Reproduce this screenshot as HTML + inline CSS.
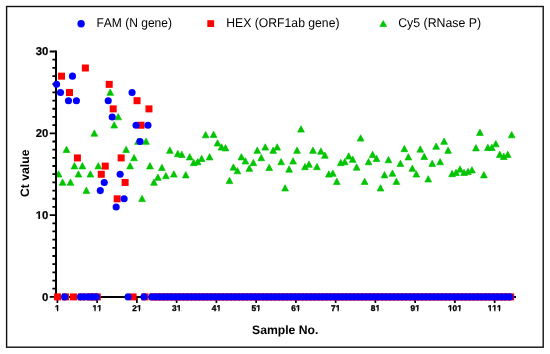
<!DOCTYPE html><html><head><meta charset="utf-8"><title>Ct value chart</title>
<style>html,body{margin:0;padding:0;background:#fff}svg{display:block}text{font-kerning:none;text-rendering:geometricPrecision;font-family:"Liberation Sans",sans-serif;fill:#000}</style></head><body>
<svg width="550" height="354" viewBox="0 0 550 354">
<rect x="0" y="0" width="550" height="354" fill="#fff"/>
<rect x="6.6" y="6.5" width="536.6" height="340.7" fill="none" stroke="#111" stroke-width="1.4"/>
<g fill="#00c400" stroke="#00c400" stroke-width="0.7" stroke-linejoin="round">
<path d="M58.55 170.77L61.90 177.07L55.20 177.07Z"/>
<path d="M62.52 178.95L65.88 185.25L59.17 185.25Z"/>
<path d="M66.50 146.25L69.85 152.55L63.15 152.55Z"/>
<path d="M70.47 178.95L73.82 185.25L67.12 185.25Z"/>
<path d="M74.45 162.60L77.80 168.90L71.10 168.90Z"/>
<path d="M78.42 170.77L81.77 177.07L75.08 177.07Z"/>
<path d="M82.40 162.60L85.75 168.90L79.05 168.90Z"/>
<path d="M86.38 187.12L89.72 193.42L83.03 193.42Z"/>
<path d="M90.35 170.77L93.70 177.07L87.00 177.07Z"/>
<path d="M94.32 129.90L97.67 136.20L90.97 136.20Z"/>
<path d="M98.30 162.60L101.65 168.90L94.95 168.90Z"/>
<path d="M110.22 89.02L113.57 95.32L106.88 95.32Z"/>
<path d="M114.20 121.72L117.55 128.02L110.85 128.02Z"/>
<path d="M118.17 113.55L121.52 119.85L114.83 119.85Z"/>
<path d="M126.12 146.25L129.47 152.55L122.78 152.55Z"/>
<path d="M130.10 162.60L133.45 168.90L126.75 168.90Z"/>
<path d="M134.07 154.42L137.42 160.72L130.72 160.72Z"/>
<path d="M138.05 138.07L141.40 144.37L134.70 144.37Z"/>
<path d="M142.03 195.30L145.38 201.60L138.68 201.60Z"/>
<path d="M146.00 138.07L149.35 144.37L142.65 144.37Z"/>
<path d="M149.97 162.60L153.32 168.90L146.62 168.90Z"/>
<path d="M153.95 178.95L157.30 185.25L150.60 185.25Z"/>
<path d="M157.93 174.04L161.28 180.34L154.58 180.34Z"/>
<path d="M161.90 164.23L165.25 170.53L158.55 170.53Z"/>
<path d="M165.88 172.41L169.22 178.71L162.53 178.71Z"/>
<path d="M169.85 147.07L173.20 153.37L166.50 153.37Z"/>
<path d="M173.82 170.77L177.17 177.07L170.47 177.07Z"/>
<path d="M177.80 150.34L181.15 156.64L174.45 156.64Z"/>
<path d="M181.78 151.15L185.12 157.45L178.43 157.45Z"/>
<path d="M185.75 171.59L189.10 177.89L182.40 177.89Z"/>
<path d="M189.73 153.61L193.08 159.91L186.38 159.91Z"/>
<path d="M193.70 159.33L197.05 165.63L190.35 165.63Z"/>
<path d="M197.68 158.51L201.03 164.81L194.33 164.81Z"/>
<path d="M201.65 155.24L205.00 161.54L198.30 161.54Z"/>
<path d="M205.62 131.53L208.97 137.83L202.28 137.83Z"/>
<path d="M209.60 153.61L212.95 159.91L206.25 159.91Z"/>
<path d="M213.57 131.13L216.92 137.43L210.22 137.43Z"/>
<path d="M217.55 139.71L220.90 146.01L214.20 146.01Z"/>
<path d="M221.52 143.80L224.87 150.10L218.17 150.10Z"/>
<path d="M225.50 144.61L228.85 150.91L222.15 150.91Z"/>
<path d="M229.48 177.31L232.83 183.61L226.13 183.61Z"/>
<path d="M233.45 163.83L236.80 170.13L230.10 170.13Z"/>
<path d="M237.43 167.50L240.78 173.80L234.08 173.80Z"/>
<path d="M241.40 153.61L244.75 159.91L238.05 159.91Z"/>
<path d="M245.38 157.69L248.72 163.99L242.03 163.99Z"/>
<path d="M249.35 165.05L252.70 171.35L246.00 171.35Z"/>
<path d="M253.32 159.33L256.68 165.63L249.97 165.63Z"/>
<path d="M257.30 147.07L260.65 153.37L253.95 153.37Z"/>
<path d="M261.27 154.42L264.62 160.72L257.92 160.72Z"/>
<path d="M265.25 143.80L268.60 150.10L261.90 150.10Z"/>
<path d="M269.23 164.23L272.58 170.53L265.88 170.53Z"/>
<path d="M273.20 147.07L276.55 153.37L269.85 153.37Z"/>
<path d="M277.18 143.80L280.53 150.10L273.82 150.10Z"/>
<path d="M281.15 158.51L284.50 164.81L277.80 164.81Z"/>
<path d="M285.12 184.67L288.48 190.97L281.77 190.97Z"/>
<path d="M289.10 165.87L292.45 172.17L285.75 172.17Z"/>
<path d="M293.07 157.69L296.43 163.99L289.72 163.99Z"/>
<path d="M297.05 147.07L300.40 153.37L293.70 153.37Z"/>
<path d="M301.02 125.81L304.38 132.11L297.67 132.11Z"/>
<path d="M305.00 163.42L308.35 169.72L301.65 169.72Z"/>
<path d="M308.98 160.96L312.33 167.26L305.62 167.26Z"/>
<path d="M312.95 147.07L316.30 153.37L309.60 153.37Z"/>
<path d="M316.93 163.42L320.28 169.72L313.57 169.72Z"/>
<path d="M320.90 147.88L324.25 154.18L317.55 154.18Z"/>
<path d="M324.88 151.97L328.23 158.27L321.52 158.27Z"/>
<path d="M328.85 170.77L332.20 177.07L325.50 177.07Z"/>
<path d="M332.83 169.96L336.18 176.26L329.48 176.26Z"/>
<path d="M336.80 178.13L340.15 184.43L333.45 184.43Z"/>
<path d="M340.78 159.33L344.13 165.63L337.43 165.63Z"/>
<path d="M344.75 158.51L348.10 164.81L341.40 164.81Z"/>
<path d="M348.73 152.79L352.08 159.09L345.38 159.09Z"/>
<path d="M352.70 156.06L356.05 162.36L349.35 162.36Z"/>
<path d="M356.68 163.83L360.03 170.13L353.32 170.13Z"/>
<path d="M360.65 134.80L364.00 141.10L357.30 141.10Z"/>
<path d="M364.62 178.13L367.98 184.43L361.27 184.43Z"/>
<path d="M368.60 158.51L371.95 164.81L365.25 164.81Z"/>
<path d="M372.58 151.15L375.93 157.45L369.23 157.45Z"/>
<path d="M376.55 155.24L379.90 161.54L373.20 161.54Z"/>
<path d="M380.53 184.67L383.88 190.97L377.18 190.97Z"/>
<path d="M384.50 171.59L387.85 177.89L381.15 177.89Z"/>
<path d="M388.48 156.47L391.83 162.77L385.12 162.77Z"/>
<path d="M392.45 169.96L395.80 176.26L389.10 176.26Z"/>
<path d="M396.43 178.13L399.78 184.43L393.07 184.43Z"/>
<path d="M400.40 160.15L403.75 166.45L397.05 166.45Z"/>
<path d="M404.38 145.43L407.73 151.73L401.02 151.73Z"/>
<path d="M408.35 153.61L411.70 159.91L405.00 159.91Z"/>
<path d="M412.33 165.05L415.68 171.35L408.98 171.35Z"/>
<path d="M416.30 170.77L419.65 177.07L412.95 177.07Z"/>
<path d="M420.28 145.84L423.63 152.14L416.93 152.14Z"/>
<path d="M424.25 153.20L427.60 159.50L420.90 159.50Z"/>
<path d="M428.23 175.68L431.58 181.98L424.88 181.98Z"/>
<path d="M432.20 160.15L435.55 166.45L428.85 166.45Z"/>
<path d="M436.18 142.98L439.53 149.28L432.82 149.28Z"/>
<path d="M440.15 158.51L443.50 164.81L436.80 164.81Z"/>
<path d="M444.12 138.07L447.48 144.37L440.77 144.37Z"/>
<path d="M448.10 147.07L451.45 153.37L444.75 153.37Z"/>
<path d="M452.08 170.37L455.43 176.67L448.73 176.67Z"/>
<path d="M456.05 169.14L459.40 175.44L452.70 175.44Z"/>
<path d="M460.03 165.87L463.38 172.17L456.68 172.17Z"/>
<path d="M464.00 169.14L467.35 175.44L460.65 175.44Z"/>
<path d="M467.98 168.32L471.33 174.62L464.62 174.62Z"/>
<path d="M471.95 166.69L475.30 172.99L468.60 172.99Z"/>
<path d="M475.93 144.61L479.28 150.91L472.57 150.91Z"/>
<path d="M479.90 129.08L483.25 135.38L476.55 135.38Z"/>
<path d="M483.88 171.59L487.23 177.89L480.52 177.89Z"/>
<path d="M487.85 144.21L491.20 150.51L484.50 150.51Z"/>
<path d="M491.83 144.21L495.18 150.51L488.48 150.51Z"/>
<path d="M495.80 140.53L499.15 146.83L492.45 146.83Z"/>
<path d="M499.78 151.15L503.13 157.45L496.43 157.45Z"/>
<path d="M503.75 153.20L507.10 159.50L500.40 159.50Z"/>
<path d="M507.73 151.15L511.08 157.45L504.38 157.45Z"/>
<path d="M511.70 131.53L515.05 137.83L508.35 137.83Z"/>
</g>
<g stroke="#000" fill="none">
<path d="M56 50.6V297.9" stroke-width="2"/>
<path d="M55 297H516" stroke-width="1.8"/>
<path d="M49.7 296.90H56M52.4 288.72H56M52.4 280.54H56M52.4 272.36H56M52.4 264.18H56M52.4 256.00H56M52.4 247.82H56M52.4 239.64H56M52.4 231.46H56M52.4 223.28H56M49.7 215.10H56M52.4 206.92H56M52.4 198.74H56M52.4 190.56H56M52.4 182.38H56M52.4 174.20H56M52.4 166.02H56M52.4 157.84H56M52.4 149.66H56M52.4 141.48H56M49.7 133.30H56M52.4 125.12H56M52.4 116.94H56M52.4 108.76H56M52.4 100.58H56M52.4 92.40H56M52.4 84.22H56M52.4 76.04H56M52.4 67.86H56M52.4 59.68H56M49.7 51.50H56" stroke-width="1.8"/>
<path d="M57.40 297V302.9M97.15 297V302.9M136.90 297V302.9M176.65 297V302.9M216.40 297V302.9M256.15 297V302.9M295.90 297V302.9M335.65 297V302.9M375.40 297V302.9M415.15 297V302.9M454.90 297V302.9M494.65 297V302.9" stroke-width="1.7"/>
</g>
<g fill="#ff0000">
<rect x="54.05" y="293.40" width="7.0" height="7.0"/>
<rect x="62.00" y="293.40" width="7.0" height="7.0"/>
<rect x="69.95" y="293.40" width="7.0" height="7.0"/>
<rect x="77.90" y="293.40" width="7.0" height="7.0"/>
<rect x="85.85" y="293.40" width="7.0" height="7.0"/>
<rect x="89.82" y="293.40" width="7.0" height="7.0"/>
<rect x="93.80" y="293.40" width="7.0" height="7.0"/>
<rect x="129.57" y="293.40" width="7.0" height="7.0"/>
<rect x="141.50" y="293.40" width="7.0" height="7.0"/>
<rect x="149.45" y="293.40" width="7.0" height="7.0"/>
<rect x="153.43" y="293.40" width="7.0" height="7.0"/>
<rect x="157.40" y="293.40" width="7.0" height="7.0"/>
<rect x="161.38" y="293.40" width="7.0" height="7.0"/>
<rect x="165.35" y="293.40" width="7.0" height="7.0"/>
<rect x="169.32" y="293.40" width="7.0" height="7.0"/>
<rect x="173.30" y="293.40" width="7.0" height="7.0"/>
<rect x="177.28" y="293.40" width="7.0" height="7.0"/>
<rect x="181.25" y="293.40" width="7.0" height="7.0"/>
<rect x="185.23" y="293.40" width="7.0" height="7.0"/>
<rect x="189.20" y="293.40" width="7.0" height="7.0"/>
<rect x="193.18" y="293.40" width="7.0" height="7.0"/>
<rect x="197.15" y="293.40" width="7.0" height="7.0"/>
<rect x="201.12" y="293.40" width="7.0" height="7.0"/>
<rect x="205.10" y="293.40" width="7.0" height="7.0"/>
<rect x="209.07" y="293.40" width="7.0" height="7.0"/>
<rect x="213.05" y="293.40" width="7.0" height="7.0"/>
<rect x="217.02" y="293.40" width="7.0" height="7.0"/>
<rect x="221.00" y="293.40" width="7.0" height="7.0"/>
<rect x="224.98" y="293.40" width="7.0" height="7.0"/>
<rect x="228.95" y="293.40" width="7.0" height="7.0"/>
<rect x="232.93" y="293.40" width="7.0" height="7.0"/>
<rect x="236.90" y="293.40" width="7.0" height="7.0"/>
<rect x="240.88" y="293.40" width="7.0" height="7.0"/>
<rect x="244.85" y="293.40" width="7.0" height="7.0"/>
<rect x="248.82" y="293.40" width="7.0" height="7.0"/>
<rect x="252.80" y="293.40" width="7.0" height="7.0"/>
<rect x="256.77" y="293.40" width="7.0" height="7.0"/>
<rect x="260.75" y="293.40" width="7.0" height="7.0"/>
<rect x="264.73" y="293.40" width="7.0" height="7.0"/>
<rect x="268.70" y="293.40" width="7.0" height="7.0"/>
<rect x="272.68" y="293.40" width="7.0" height="7.0"/>
<rect x="276.65" y="293.40" width="7.0" height="7.0"/>
<rect x="280.62" y="293.40" width="7.0" height="7.0"/>
<rect x="284.60" y="293.40" width="7.0" height="7.0"/>
<rect x="288.57" y="293.40" width="7.0" height="7.0"/>
<rect x="292.55" y="293.40" width="7.0" height="7.0"/>
<rect x="296.52" y="293.40" width="7.0" height="7.0"/>
<rect x="300.50" y="293.40" width="7.0" height="7.0"/>
<rect x="304.48" y="293.40" width="7.0" height="7.0"/>
<rect x="308.45" y="293.40" width="7.0" height="7.0"/>
<rect x="312.43" y="293.40" width="7.0" height="7.0"/>
<rect x="316.40" y="293.40" width="7.0" height="7.0"/>
<rect x="320.38" y="293.40" width="7.0" height="7.0"/>
<rect x="324.35" y="293.40" width="7.0" height="7.0"/>
<rect x="328.33" y="293.40" width="7.0" height="7.0"/>
<rect x="332.30" y="293.40" width="7.0" height="7.0"/>
<rect x="336.28" y="293.40" width="7.0" height="7.0"/>
<rect x="340.25" y="293.40" width="7.0" height="7.0"/>
<rect x="344.23" y="293.40" width="7.0" height="7.0"/>
<rect x="348.20" y="293.40" width="7.0" height="7.0"/>
<rect x="352.18" y="293.40" width="7.0" height="7.0"/>
<rect x="356.15" y="293.40" width="7.0" height="7.0"/>
<rect x="360.12" y="293.40" width="7.0" height="7.0"/>
<rect x="364.10" y="293.40" width="7.0" height="7.0"/>
<rect x="368.08" y="293.40" width="7.0" height="7.0"/>
<rect x="372.05" y="293.40" width="7.0" height="7.0"/>
<rect x="376.03" y="293.40" width="7.0" height="7.0"/>
<rect x="380.00" y="293.40" width="7.0" height="7.0"/>
<rect x="383.98" y="293.40" width="7.0" height="7.0"/>
<rect x="387.95" y="293.40" width="7.0" height="7.0"/>
<rect x="391.93" y="293.40" width="7.0" height="7.0"/>
<rect x="395.90" y="293.40" width="7.0" height="7.0"/>
<rect x="399.88" y="293.40" width="7.0" height="7.0"/>
<rect x="403.85" y="293.40" width="7.0" height="7.0"/>
<rect x="407.83" y="293.40" width="7.0" height="7.0"/>
<rect x="411.80" y="293.40" width="7.0" height="7.0"/>
<rect x="415.78" y="293.40" width="7.0" height="7.0"/>
<rect x="419.75" y="293.40" width="7.0" height="7.0"/>
<rect x="423.73" y="293.40" width="7.0" height="7.0"/>
<rect x="427.70" y="293.40" width="7.0" height="7.0"/>
<rect x="431.68" y="293.40" width="7.0" height="7.0"/>
<rect x="435.65" y="293.40" width="7.0" height="7.0"/>
<rect x="439.62" y="293.40" width="7.0" height="7.0"/>
<rect x="443.60" y="293.40" width="7.0" height="7.0"/>
<rect x="447.58" y="293.40" width="7.0" height="7.0"/>
<rect x="451.55" y="293.40" width="7.0" height="7.0"/>
<rect x="455.53" y="293.40" width="7.0" height="7.0"/>
<rect x="459.50" y="293.40" width="7.0" height="7.0"/>
<rect x="463.48" y="293.40" width="7.0" height="7.0"/>
<rect x="467.45" y="293.40" width="7.0" height="7.0"/>
<rect x="471.43" y="293.40" width="7.0" height="7.0"/>
<rect x="475.40" y="293.40" width="7.0" height="7.0"/>
<rect x="479.38" y="293.40" width="7.0" height="7.0"/>
<rect x="483.35" y="293.40" width="7.0" height="7.0"/>
<rect x="487.33" y="293.40" width="7.0" height="7.0"/>
<rect x="491.30" y="293.40" width="7.0" height="7.0"/>
<rect x="495.28" y="293.40" width="7.0" height="7.0"/>
<rect x="499.25" y="293.40" width="7.0" height="7.0"/>
<rect x="503.23" y="293.40" width="7.0" height="7.0"/>
<rect x="507.20" y="293.40" width="7.0" height="7.0"/>
<rect x="58.02" y="72.67" width="7.0" height="7.0"/>
<rect x="65.97" y="89.02" width="7.0" height="7.0"/>
<rect x="73.92" y="154.42" width="7.0" height="7.0"/>
<rect x="81.88" y="64.50" width="7.0" height="7.0"/>
<rect x="97.78" y="170.77" width="7.0" height="7.0"/>
<rect x="101.75" y="162.60" width="7.0" height="7.0"/>
<rect x="105.72" y="80.85" width="7.0" height="7.0"/>
<rect x="109.70" y="105.37" width="7.0" height="7.0"/>
<rect x="113.67" y="195.30" width="7.0" height="7.0"/>
<rect x="117.65" y="154.42" width="7.0" height="7.0"/>
<rect x="121.62" y="178.95" width="7.0" height="7.0"/>
<rect x="133.55" y="97.20" width="7.0" height="7.0"/>
<rect x="137.53" y="121.72" width="7.0" height="7.0"/>
<rect x="145.47" y="105.37" width="7.0" height="7.0"/>
</g>
<g fill="#0000ff">
<circle cx="64.50" cy="296.90" r="3.55"/>
<circle cx="80.40" cy="296.90" r="3.55"/>
<circle cx="84.38" cy="296.90" r="3.55"/>
<circle cx="88.35" cy="296.90" r="3.55"/>
<circle cx="92.32" cy="296.90" r="3.55"/>
<circle cx="96.30" cy="296.90" r="3.55"/>
<circle cx="128.10" cy="296.90" r="3.55"/>
<circle cx="144.00" cy="296.90" r="3.55"/>
<circle cx="151.95" cy="296.90" r="3.55"/>
<circle cx="155.93" cy="296.90" r="3.55"/>
<circle cx="159.90" cy="296.90" r="3.55"/>
<circle cx="163.88" cy="296.90" r="3.55"/>
<circle cx="167.85" cy="296.90" r="3.55"/>
<circle cx="171.82" cy="296.90" r="3.55"/>
<circle cx="175.80" cy="296.90" r="3.55"/>
<circle cx="179.78" cy="296.90" r="3.55"/>
<circle cx="183.75" cy="296.90" r="3.55"/>
<circle cx="187.73" cy="296.90" r="3.55"/>
<circle cx="191.70" cy="296.90" r="3.55"/>
<circle cx="195.68" cy="296.90" r="3.55"/>
<circle cx="199.65" cy="296.90" r="3.55"/>
<circle cx="203.62" cy="296.90" r="3.55"/>
<circle cx="207.60" cy="296.90" r="3.55"/>
<circle cx="211.57" cy="296.90" r="3.55"/>
<circle cx="215.55" cy="296.90" r="3.55"/>
<circle cx="219.52" cy="296.90" r="3.55"/>
<circle cx="223.50" cy="296.90" r="3.55"/>
<circle cx="227.48" cy="296.90" r="3.55"/>
<circle cx="231.45" cy="296.90" r="3.55"/>
<circle cx="235.43" cy="296.90" r="3.55"/>
<circle cx="239.40" cy="296.90" r="3.55"/>
<circle cx="243.38" cy="296.90" r="3.55"/>
<circle cx="247.35" cy="296.90" r="3.55"/>
<circle cx="251.32" cy="296.90" r="3.55"/>
<circle cx="255.30" cy="296.90" r="3.55"/>
<circle cx="259.27" cy="296.90" r="3.55"/>
<circle cx="263.25" cy="296.90" r="3.55"/>
<circle cx="267.23" cy="296.90" r="3.55"/>
<circle cx="271.20" cy="296.90" r="3.55"/>
<circle cx="275.18" cy="296.90" r="3.55"/>
<circle cx="279.15" cy="296.90" r="3.55"/>
<circle cx="283.12" cy="296.90" r="3.55"/>
<circle cx="287.10" cy="296.90" r="3.55"/>
<circle cx="291.07" cy="296.90" r="3.55"/>
<circle cx="295.05" cy="296.90" r="3.55"/>
<circle cx="299.02" cy="296.90" r="3.55"/>
<circle cx="303.00" cy="296.90" r="3.55"/>
<circle cx="306.98" cy="296.90" r="3.55"/>
<circle cx="310.95" cy="296.90" r="3.55"/>
<circle cx="314.93" cy="296.90" r="3.55"/>
<circle cx="318.90" cy="296.90" r="3.55"/>
<circle cx="322.88" cy="296.90" r="3.55"/>
<circle cx="326.85" cy="296.90" r="3.55"/>
<circle cx="330.83" cy="296.90" r="3.55"/>
<circle cx="334.80" cy="296.90" r="3.55"/>
<circle cx="338.78" cy="296.90" r="3.55"/>
<circle cx="342.75" cy="296.90" r="3.55"/>
<circle cx="346.73" cy="296.90" r="3.55"/>
<circle cx="350.70" cy="296.90" r="3.55"/>
<circle cx="354.68" cy="296.90" r="3.55"/>
<circle cx="358.65" cy="296.90" r="3.55"/>
<circle cx="362.62" cy="296.90" r="3.55"/>
<circle cx="366.60" cy="296.90" r="3.55"/>
<circle cx="370.58" cy="296.90" r="3.55"/>
<circle cx="374.55" cy="296.90" r="3.55"/>
<circle cx="378.53" cy="296.90" r="3.55"/>
<circle cx="382.50" cy="296.90" r="3.55"/>
<circle cx="386.48" cy="296.90" r="3.55"/>
<circle cx="390.45" cy="296.90" r="3.55"/>
<circle cx="394.43" cy="296.90" r="3.55"/>
<circle cx="398.40" cy="296.90" r="3.55"/>
<circle cx="402.38" cy="296.90" r="3.55"/>
<circle cx="406.35" cy="296.90" r="3.55"/>
<circle cx="410.33" cy="296.90" r="3.55"/>
<circle cx="414.30" cy="296.90" r="3.55"/>
<circle cx="418.28" cy="296.90" r="3.55"/>
<circle cx="422.25" cy="296.90" r="3.55"/>
<circle cx="426.23" cy="296.90" r="3.55"/>
<circle cx="430.20" cy="296.90" r="3.55"/>
<circle cx="434.18" cy="296.90" r="3.55"/>
<circle cx="438.15" cy="296.90" r="3.55"/>
<circle cx="442.12" cy="296.90" r="3.55"/>
<circle cx="446.10" cy="296.90" r="3.55"/>
<circle cx="450.08" cy="296.90" r="3.55"/>
<circle cx="454.05" cy="296.90" r="3.55"/>
<circle cx="458.03" cy="296.90" r="3.55"/>
<circle cx="462.00" cy="296.90" r="3.55"/>
<circle cx="465.98" cy="296.90" r="3.55"/>
<circle cx="469.95" cy="296.90" r="3.55"/>
<circle cx="473.93" cy="296.90" r="3.55"/>
<circle cx="477.90" cy="296.90" r="3.55"/>
<circle cx="481.88" cy="296.90" r="3.55"/>
<circle cx="485.85" cy="296.90" r="3.55"/>
<circle cx="489.83" cy="296.90" r="3.55"/>
<circle cx="493.80" cy="296.90" r="3.55"/>
<circle cx="497.78" cy="296.90" r="3.55"/>
<circle cx="501.75" cy="296.90" r="3.55"/>
<circle cx="505.73" cy="296.90" r="3.55"/>
<circle cx="509.70" cy="296.90" r="3.55"/>
<circle cx="56.55" cy="84.35" r="3.55"/>
<circle cx="60.52" cy="92.52" r="3.55"/>
<circle cx="68.47" cy="100.70" r="3.55"/>
<circle cx="72.45" cy="76.17" r="3.55"/>
<circle cx="76.42" cy="100.70" r="3.55"/>
<circle cx="100.28" cy="190.62" r="3.55"/>
<circle cx="104.25" cy="182.45" r="3.55"/>
<circle cx="108.22" cy="100.70" r="3.55"/>
<circle cx="112.20" cy="117.05" r="3.55"/>
<circle cx="116.17" cy="206.97" r="3.55"/>
<circle cx="120.15" cy="174.27" r="3.55"/>
<circle cx="124.12" cy="198.80" r="3.55"/>
<circle cx="132.07" cy="92.52" r="3.55"/>
<circle cx="136.05" cy="125.22" r="3.55"/>
<circle cx="140.03" cy="141.57" r="3.55"/>
<circle cx="147.97" cy="125.22" r="3.55"/>
</g>
<circle cx="81.1" cy="23.8" r="3.7" fill="#0000ff"/>
<rect x="207.3" y="20.2" width="6.8" height="6.8" fill="#ff0000"/>
<path d="M383.25 20.6L386.6 26.55L379.9 26.55Z" fill="#00c400" stroke="#00c400" stroke-width="0.7" stroke-linejoin="round"/>
<text x="96.4" y="27.35" font-size="12.7" textLength="75.6" lengthAdjust="spacingAndGlyphs">FAM (N gene)</text>
<text x="226.3" y="27.35" font-size="12.7" textLength="113.2" lengthAdjust="spacingAndGlyphs">HEX (ORF1ab gene)</text>
<text x="398.2" y="27.35" font-size="12.7" textLength="83.0" lengthAdjust="spacingAndGlyphs">Cy5 (RNase P)</text>
<text x="48.3" y="300.60" font-size="11.3" font-weight="bold" text-anchor="end" stroke="#000" stroke-width="0.2">0</text>
<text x="48.3" y="218.80" font-size="11.3" font-weight="bold" text-anchor="end" stroke="#000" stroke-width="0.2">10</text>
<text x="48.3" y="137.00" font-size="11.3" font-weight="bold" text-anchor="end" stroke="#000" stroke-width="0.2">20</text>
<text x="48.3" y="55.20" font-size="11.3" font-weight="bold" text-anchor="end" stroke="#000" stroke-width="0.2">30</text>
<text x="57.40" y="311.00" font-size="8.3" font-weight="bold" text-anchor="middle" stroke="#000" stroke-width="0.35">1</text>
<text x="97.15" y="311.00" font-size="8.3" font-weight="bold" text-anchor="middle" stroke="#000" stroke-width="0.35">11</text>
<text x="136.90" y="311.00" font-size="8.3" font-weight="bold" text-anchor="middle" stroke="#000" stroke-width="0.35">21</text>
<text x="176.65" y="311.00" font-size="8.3" font-weight="bold" text-anchor="middle" stroke="#000" stroke-width="0.35">31</text>
<text x="216.40" y="311.00" font-size="8.3" font-weight="bold" text-anchor="middle" stroke="#000" stroke-width="0.35">41</text>
<text x="256.15" y="311.00" font-size="8.3" font-weight="bold" text-anchor="middle" stroke="#000" stroke-width="0.35">51</text>
<text x="295.90" y="311.00" font-size="8.3" font-weight="bold" text-anchor="middle" stroke="#000" stroke-width="0.35">61</text>
<text x="335.65" y="311.00" font-size="8.3" font-weight="bold" text-anchor="middle" stroke="#000" stroke-width="0.35">71</text>
<text x="375.40" y="311.00" font-size="8.3" font-weight="bold" text-anchor="middle" stroke="#000" stroke-width="0.35">81</text>
<text x="415.15" y="311.00" font-size="8.3" font-weight="bold" text-anchor="middle" stroke="#000" stroke-width="0.35">91</text>
<text x="454.90" y="311.00" font-size="8.3" font-weight="bold" text-anchor="middle" stroke="#000" stroke-width="0.35">101</text>
<text x="494.65" y="311.00" font-size="8.3" font-weight="bold" text-anchor="middle" stroke="#000" stroke-width="0.35">111</text>
<g fill="#fff"><rect x="35.73" y="217.30" width="2.63" height="2.70"/><rect x="39.95" y="217.30" width="2.54" height="2.70"/><rect x="55.09" y="309.80" width="1.93" height="2.40"/><rect x="58.19" y="309.80" width="1.87" height="2.40"/><rect x="92.53" y="309.80" width="1.93" height="2.40"/><rect x="95.63" y="309.80" width="1.87" height="2.40"/><rect x="97.15" y="309.80" width="1.93" height="2.40"/><rect x="100.25" y="309.80" width="1.87" height="2.40"/><rect x="136.90" y="309.80" width="1.93" height="2.40"/><rect x="140.00" y="309.80" width="1.87" height="2.40"/><rect x="176.65" y="309.80" width="1.93" height="2.40"/><rect x="179.75" y="309.80" width="1.87" height="2.40"/><rect x="216.40" y="309.80" width="1.93" height="2.40"/><rect x="219.50" y="309.80" width="1.87" height="2.40"/><rect x="256.15" y="309.80" width="1.93" height="2.40"/><rect x="259.25" y="309.80" width="1.87" height="2.40"/><rect x="295.90" y="309.80" width="1.93" height="2.40"/><rect x="299.00" y="309.80" width="1.87" height="2.40"/><rect x="335.65" y="309.80" width="1.93" height="2.40"/><rect x="338.75" y="309.80" width="1.87" height="2.40"/><rect x="375.40" y="309.80" width="1.93" height="2.40"/><rect x="378.50" y="309.80" width="1.87" height="2.40"/><rect x="415.15" y="309.80" width="1.93" height="2.40"/><rect x="418.25" y="309.80" width="1.87" height="2.40"/><rect x="447.98" y="309.80" width="1.93" height="2.40"/><rect x="451.08" y="309.80" width="1.87" height="2.40"/><rect x="457.21" y="309.80" width="1.93" height="2.40"/><rect x="460.31" y="309.80" width="1.87" height="2.40"/><rect x="487.73" y="309.80" width="1.93" height="2.40"/><rect x="490.83" y="309.80" width="1.87" height="2.40"/><rect x="492.34" y="309.80" width="1.93" height="2.40"/><rect x="495.44" y="309.80" width="1.87" height="2.40"/><rect x="496.96" y="309.80" width="1.93" height="2.40"/><rect x="500.06" y="309.80" width="1.87" height="2.40"/></g>
<text x="285.2" y="334.2" font-size="12.2" font-weight="bold" text-anchor="middle">Sample No.</text>
<text transform="translate(29.2 173.3) rotate(-90)" font-size="12.2" font-weight="bold" text-anchor="middle">Ct value</text>
</svg></body></html>
